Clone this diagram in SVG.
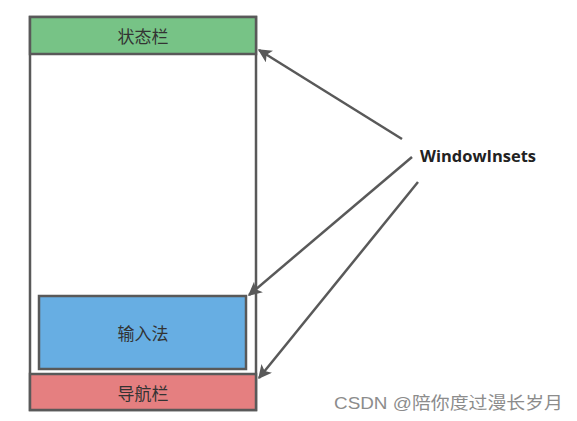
<svg xmlns="http://www.w3.org/2000/svg" width="577" height="421" viewBox="0 0 577 421">
<defs>
<style>
.box{stroke:#595959;stroke-width:2.5}
.lbl{font-family:"Noto Sans CJK SC","Noto Sans",sans-serif;font-size:17px;fill:#333;text-anchor:middle;dominant-baseline:central}
.conn{stroke:#595959;stroke-width:2.5;fill:none;marker-end:url(#ah)}
</style>
<marker id="ah" viewBox="0 0 10 10" refX="9" refY="5" markerWidth="5.5" markerHeight="5.5" orient="auto" markerUnits="strokeWidth">
<path d="M0,0 L10,5 L0,10 L2.5,5 Z" fill="#595959"/>
</marker>
</defs>
<rect width="577" height="421" fill="#ffffff"/>
<g id="screen">
<rect class="box" x="30" y="17" width="226" height="393" fill="#ffffff"/>
</g>
<g id="statusbar">
<rect class="box" x="30" y="17" width="226" height="37" fill="#77c386"/>
<text class="lbl" x="143" y="35">状态栏</text>
</g>
<g id="ime">
<rect class="box" x="39" y="296" width="207" height="73" fill="#67aee3"/>
<text class="lbl" x="143" y="332">输入法</text>
</g>
<g id="navbar">
<rect class="box" x="30" y="374" width="226" height="36" fill="#e57f80"/>
<text class="lbl" x="143" y="392">导航栏</text>
</g>
<g id="windowinsets">
<text x="420" y="162" font-family="'Open Sans','Noto Sans',sans-serif" font-size="16.5" font-weight="bold" fill="#222" textLength="116" lengthAdjust="spacingAndGlyphs">WindowInsets</text>
</g>
<g id="connectors">
<line class="conn" x1="402" y1="139" x2="259" y2="50"/>
<line class="conn" x1="412" y1="157" x2="249" y2="295"/>
<line class="conn" x1="418" y1="182" x2="259" y2="378"/>
</g>
<g id="watermark">
<text x="334" y="409" font-family="'Liberation Sans','Noto Sans CJK SC',sans-serif" font-size="17" fill="#8c8c8c" textLength="229" lengthAdjust="spacingAndGlyphs">CSDN @陪你度过漫长岁月</text>
</g>
</svg>
